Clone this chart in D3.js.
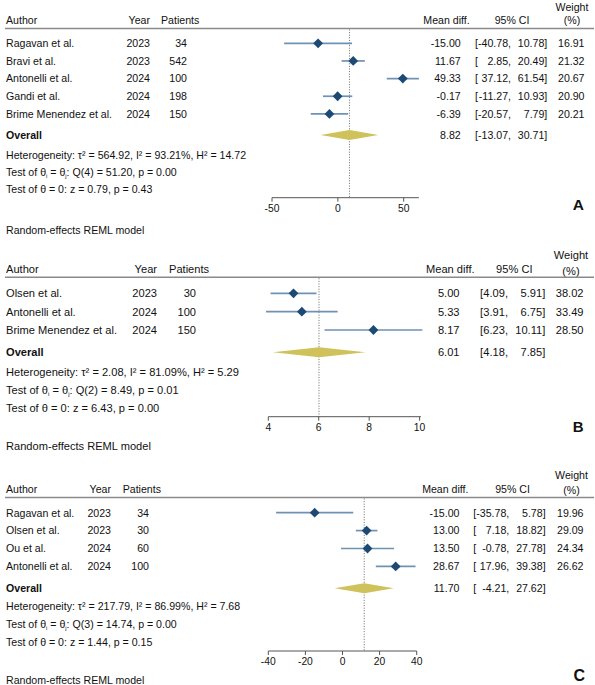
<!DOCTYPE html>
<html><head><meta charset="utf-8">
<script src="https://cdn.jsdelivr.net/npm/d3@7"></script>
<style>
html,body{margin:0;padding:0;background:#fff;}
svg text{font-family:"Liberation Sans",Arial,Helvetica,sans-serif;fill:#111;}
</style></head>
<body>
<svg id="chart" width="595" height="685"></svg>
<script>
// ---------- DATA ----------
// Panel A
const authorsA = ["Ragavan et al.", "Bravi et al.", "Antonelli et al.", "Gandi et al.", "Brime Menendez et al."];
const yearsA = [2023, 2023, 2024, 2024, 2024];
const patientsA = [34, 542, 100, 198, 150];
const meanA = [-15.00, 11.67, 49.33, -0.17, -6.39];
const lowA = [-40.78, 2.85, 37.12, -11.27, -20.57];
const highA = [10.78, 20.49, 61.54, 10.93, 7.79];
const weightA = [16.91, 21.32, 20.67, 20.90, 20.21];
const overallA = [8.82, -13.07, 30.71];
const hetA = {tau2: 564.92, I2: 93.21, H2: 14.72, df: 4, Q: 51.20, pQ: 0.00, z: 0.79, pz: 0.43};
const ticksA = [-50, 0, 50];

// Panel B
const authorsB = ["Olsen et al.", "Antonelli et al.", "Brime Menendez et al."];
const yearsB = [2023, 2024, 2024];
const patientsB = [30, 100, 150];
const meanB = [5.00, 5.33, 8.17];
const lowB = [4.09, 3.91, 6.23];
const highB = [5.91, 6.75, 10.11];
const weightB = [38.02, 33.49, 28.50];
const overallB = [6.01, 4.18, 7.85];
const hetB = {tau2: 2.08, I2: 81.09, H2: 5.29, df: 2, Q: 8.49, pQ: 0.01, z: 6.43, pz: 0.00};
const ticksB = [4, 6, 8, 10];

// Panel C
const authorsC = ["Ragavan et al.", "Olsen et al.", "Ou et al.", "Antonelli et al."];
const yearsC = [2023, 2023, 2024, 2024];
const patientsC = [34, 30, 60, 100];
const meanC = [-15.00, 13.00, 13.50, 28.67];
const lowC = [-35.78, 7.18, -0.78, 17.96];
const highC = [5.78, 18.82, 27.78, 39.38];
const weightC = [19.96, 29.09, 24.34, 26.62];
const overallC = [11.70, -4.21, 27.62];
const hetC = {tau2: 217.79, I2: 86.99, H2: 7.68, df: 3, Q: 14.74, pQ: 0.00, z: 1.44, pz: 0.15};
const ticksC = [-40, -20, 0, 20, 40];

const panelLetters = ["A", "B", "C"];
const modelNote = "Random-effects REML model";

// ---------- LAYOUT (positions / styles only) ----------
const layouts = [
  {fs:10.6, wY1:7, wY2:20.5, headY:20.5, lineY:28.5, rowY0:43.3, rowStep:17.65, overallY:135, hetY0:155, hetStep:17,
   axisY:197.7, tickLabY:208, noteY:230, letterY:204.5, letterX:584, letterFs:15.5,
   r0:272, r1:403.7, axisExt:[-50, 61.54],
   yearRight:150, patHeadX:161, patRight:187, mdHeadC:446.5, mdRight:460.7, ciHeadC:512, brX:475, loRight:511, hiRight:547.3, wRight:584.5, wHeadC:572},
  {fs:11.1, wY1:255, wY2:270.7, headY:269.5, lineY:277.3, rowY0:293.3, rowStep:18.35, overallY:352.3, hetY0:371.7, hetStep:18.2,
   axisY:416.7, tickLabY:427.7, noteY:446.5, letterY:426.7, letterX:583.5, letterFs:15,
   r0:268.3, r1:419.6, axisExt:[4, 10.05],
   yearRight:157, patHeadX:169, patRight:196, mdHeadC:450.3, mdRight:459.5, ciHeadC:514.3, brX:480, loRight:508, hiRight:545.3, wRight:583.5, wHeadC:571},
  {fs:10.6, wY1:475, wY2:490, headY:489.3, lineY:497.5, rowY0:512.7, rowStep:17.9, overallY:588.2, hetY0:605.7, hetStep:18.3,
   axisY:651, tickLabY:661.5, noteY:680, letterY:675, letterX:585, letterFs:16,
   r0:268.3, r1:416.7, axisExt:[-40, 40],
   yearRight:111, patHeadX:122.7, patRight:149, mdHeadC:445.3, mdRight:459.5, ciHeadC:512.5, brX:473.3, loRight:509.3, hiRight:545.6, wRight:583.5, wHeadC:571.5}
];

const panels = [
  {authors:authorsA, years:yearsA, patients:patientsA, mean:meanA, low:lowA, high:highA, weight:weightA, overall:overallA, het:hetA, ticks:ticksA},
  {authors:authorsB, years:yearsB, patients:patientsB, mean:meanB, low:lowB, high:highB, weight:weightB, overall:overallB, het:hetB, ticks:ticksB},
  {authors:authorsC, years:yearsC, patients:patientsC, mean:meanC, low:lowC, high:highC, weight:weightC, overall:overallC, het:hetC, ticks:ticksC}
];

const markerColor = "#1d4a74";
const ciColor = "#6f91b4";
const overallColor = "#cfc25a";

const loc = d3.formatLocale({decimal:".", thousands:",", grouping:[3], currency:["",""], minus:"-"});
const f2 = loc.format(".2f");

const svg = d3.select("#chart");

panels.forEach((P, pi) => {
  const L = layouts[pi];
  const g = svg.append("g");
  const fs = L.fs;
  const bl = c => c + 0.36 * fs;           // baseline from visual centre
  const txt = (x, y, s, anchor, extra) => {
    const t = g.append("text").attr("x", x).attr("y", bl(y)).attr("font-size", fs)
      .attr("text-anchor", anchor || "start").text(s);
    if (extra) extra(t);
    return t;
  };

  const x = d3.scaleLinear().domain([P.ticks[0], P.ticks[P.ticks.length - 1]]).range([L.r0, L.r1]);
  const rowY = i => L.rowY0 + i * L.rowStep;

  // headers
  txt(6, L.headY, "Author");
  txt(L.yearRight, L.headY, "Year", "end");
  txt(L.patHeadX, L.headY, "Patients");
  txt(L.mdHeadC, L.headY, "Mean diff.", "middle");
  txt(L.ciHeadC, L.headY, "95% CI", "middle");
  txt(L.wHeadC, L.wY1, "Weight", "middle");
  txt(L.wHeadC, L.wY2, "(%)", "middle");
  g.append("line").attr("x1", 5).attr("x2", 594).attr("y1", L.lineY).attr("y2", L.lineY)
    .attr("stroke", "#8a8a8a").attr("stroke-width", 1.4);

  // reference line at overall estimate
  g.append("line").attr("x1", x(P.overall[0])).attr("x2", x(P.overall[0]))
    .attr("y1", L.lineY + 1).attr("y2", L.axisY)
    .attr("stroke", "#444").attr("stroke-width", 0.8).attr("stroke-dasharray", "1,1.6");

  // study rows
  P.authors.forEach((a, i) => {
    const y = rowY(i);
    txt(6, y, a);
    txt(L.yearRight, y, String(P.years[i]), "end");
    txt(L.patRight, y, String(P.patients[i]), "end");
    txt(L.mdRight, y, f2(P.mean[i]), "end");
    txt(L.brX, y, "[");
    txt(L.loRight, y, f2(P.low[i]) + ",", "end");
    txt(L.hiRight, y, f2(P.high[i]) + "]", "end");
    txt(L.wRight, y, f2(P.weight[i]), "end");

    g.append("line").attr("x1", x(P.low[i])).attr("x2", x(P.high[i]))
      .attr("y1", y).attr("y2", y).attr("stroke", ciColor).attr("stroke-width", 1.7);
    const cx = x(P.mean[i]), h = 4.9;
    g.append("path").attr("d", `M${cx},${y - h}L${cx + h},${y}L${cx},${y + h}L${cx - h},${y}Z`)
      .attr("fill", markerColor);
  });

  // overall
  const oy = L.overallY;
  txt(6, oy, "Overall", "start", t => t.attr("font-weight", "bold"));
  txt(L.mdRight, oy, f2(P.overall[0]), "end");
  txt(L.brX, oy, "[");
  txt(L.loRight, oy, f2(P.overall[1]) + ",", "end");
  txt(L.hiRight, oy, f2(P.overall[2]) + "]", "end");
  const ox = x(P.overall[0]), ol = x(P.overall[1]), oh = x(P.overall[2]), dh = 5;
  g.append("path").attr("d", `M${ol},${oy}L${ox},${oy - dh}L${oh},${oy}L${ox},${oy + dh}Z`)
    .attr("fill", overallColor);

  // heterogeneity text
  const H = P.het;
  txt(6, L.hetY0, `Heterogeneity: τ² = ${f2(H.tau2)}, I² = ${f2(H.I2)}%, H² = ${f2(H.H2)}`);
  const t2 = txt(6, L.hetY0 + L.hetStep, "");
  t2.append("tspan").text("Test of θ");
  t2.append("tspan").attr("dy", 2.5).attr("font-size", fs * 0.55).text("i");
  t2.append("tspan").attr("dy", -2.5).text(" = θ");
  t2.append("tspan").attr("dy", 2.5).attr("font-size", fs * 0.55).text("j");
  t2.append("tspan").attr("dy", -2.5).text(`: Q(${H.df}) = ${f2(H.Q)}, p = ${f2(H.pQ)}`);
  txt(6, L.hetY0 + 2 * L.hetStep, `Test of θ = 0: z = ${f2(H.z)}, p = ${f2(H.pz)}`);

  // axis
  const ax = g.append("g").attr("transform", `translate(0,${L.axisY})`);
  ax.append("line").attr("x1", x(L.axisExt[0])).attr("x2", x(L.axisExt[1]))
    .attr("stroke", "#555").attr("stroke-width", 1);
  ax.selectAll("line.tick").data(P.ticks).join("line").attr("class", "tick")
    .attr("x1", d => x(d)).attr("x2", d => x(d)).attr("y1", 0).attr("y2", 4)
    .attr("stroke", "#555").attr("stroke-width", 1);
  g.selectAll("text.tl").data(P.ticks).join("text").attr("class", "tl")
    .attr("x", d => x(d)).attr("y", L.tickLabY + 3.6).attr("font-size", 10.3)
    .attr("text-anchor", "middle").text(d => String(d));

  // note & panel letter
  txt(6, L.noteY, modelNote);
  g.append("text").attr("x", L.letterX).attr("y", L.letterY + L.letterFs * 0.36)
    .attr("font-size", L.letterFs).attr("font-weight", "bold").attr("text-anchor", "end")
    .text(panelLetters[pi]);
});
</script>
</body></html>
